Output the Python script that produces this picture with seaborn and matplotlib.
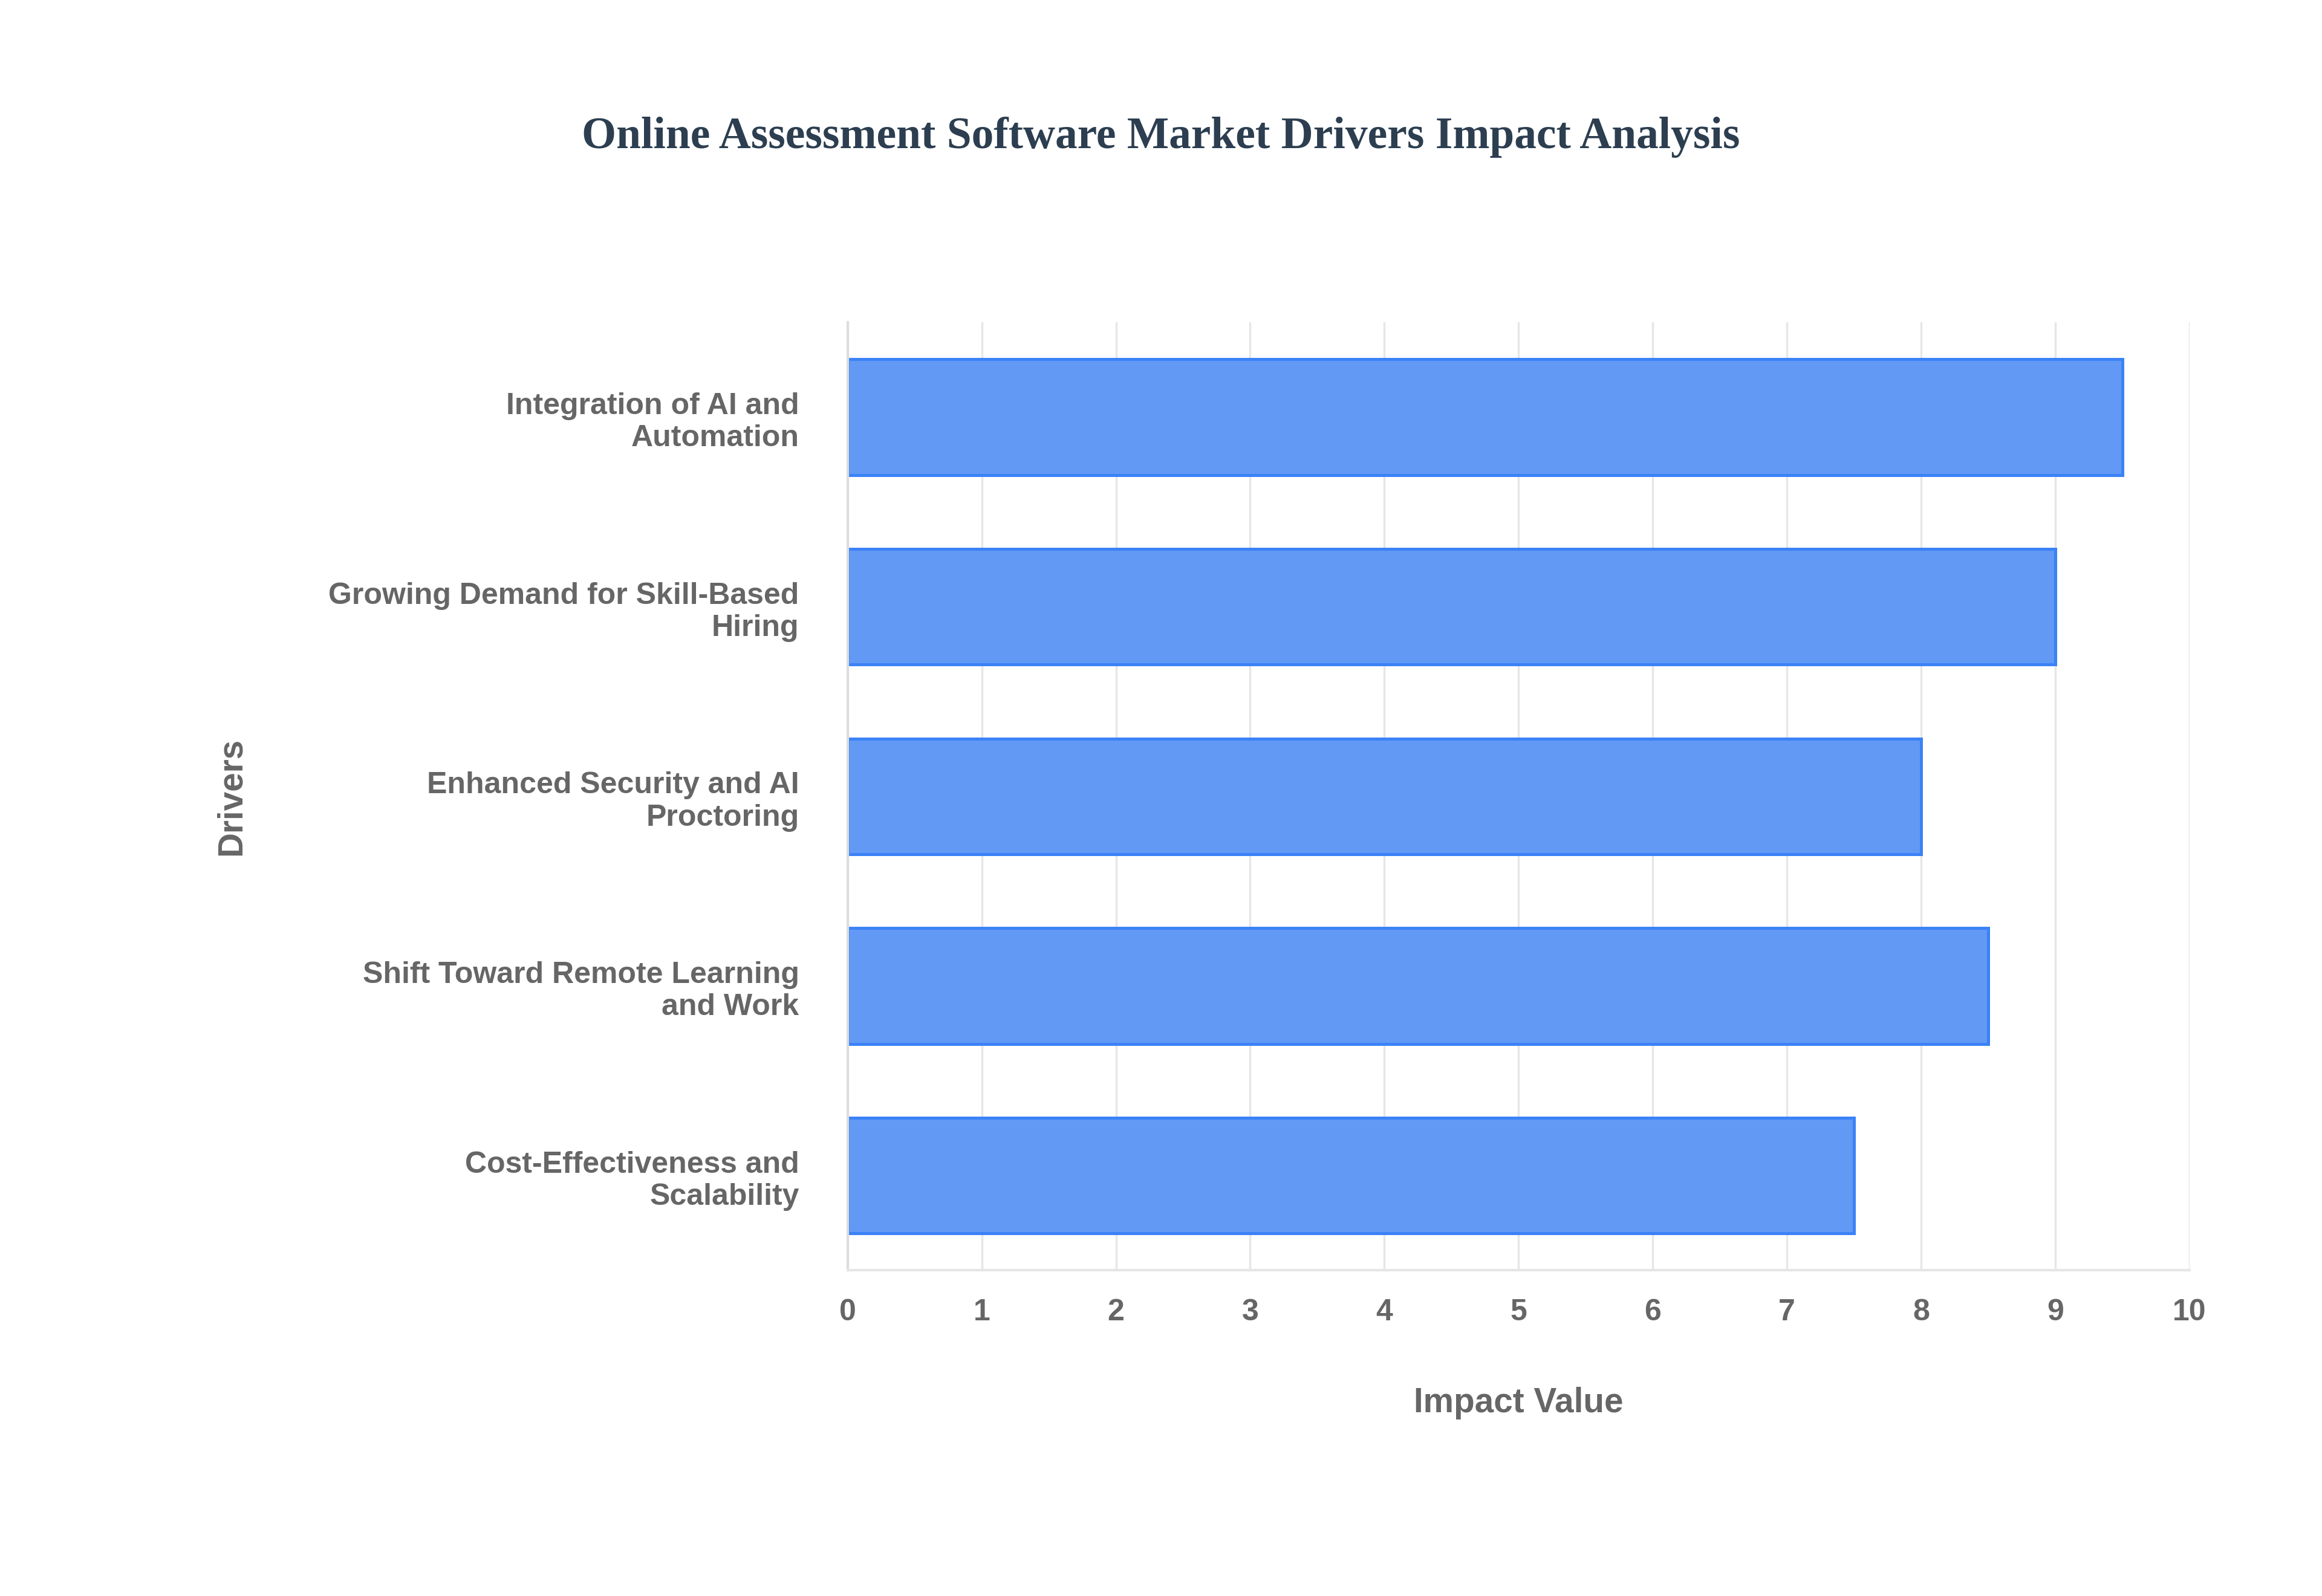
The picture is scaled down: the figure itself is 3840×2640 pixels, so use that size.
import matplotlib
matplotlib.use("Agg")
import matplotlib.pyplot as plt
import seaborn as sns
import pandas as pd

drivers = [
    "Integration of AI and\nAutomation",
    "Growing Demand for Skill-Based\nHiring",
    "Enhanced Security and AI\nProctoring",
    "Shift Toward Remote Learning\nand Work",
    "Cost-Effectiveness and\nScalability",
]
impact = [9.5, 9.0, 8.0, 8.5, 7.5]

df = pd.DataFrame({"Drivers": drivers, "Impact": impact})

sns.set_theme(style="white")
plt.rcParams['font.family'] = ['Liberation Sans', 'DejaVu Sans']

fig = plt.figure(figsize=(16, 11), dpi=240)
ax = fig.add_axes([0.365, 0.204, 0.578, 0.594])

sns.barplot(data=df, x="Impact", y="Drivers", orient="h", ax=ax,
            color="#6199F5", edgecolor="#3b82f6", linewidth=1.5, width=0.61,
            saturation=1)

ax.set_xlim(0, 10)
ax.set_xticks(range(11))
ax.grid(axis="x", color="#e6e6e6", linewidth=1)
ax.set_axisbelow(True)
for s in ["top", "right"]:
    ax.spines[s].set_visible(False)
ax.spines["left"].set_color("#dddddd")
ax.spines["bottom"].set_color("#e6e6e6")
ax.tick_params(axis="both", length=0, pad=14, labelsize=15, labelcolor="#666666")
for lab in ax.get_xticklabels() + ax.get_yticklabels():
    lab.set_fontweight("bold")
ax.tick_params(axis="y", pad=24)

ax.set_xlabel("Impact Value", fontsize=17, fontweight="bold", color="#666666", labelpad=30)
ax.set_ylabel("Drivers", fontsize=17, fontweight="bold", color="#666666", labelpad=40)

fig.text(0.5, 0.914, "Online Assessment Software Market Drivers Impact Analysis",
         ha="center", va="center", fontsize=22, fontweight="bold",
         color="#2c3e50", family=["Liberation Serif", "DejaVu Serif"])

fig.savefig("out.png", dpi=240, facecolor="white")
